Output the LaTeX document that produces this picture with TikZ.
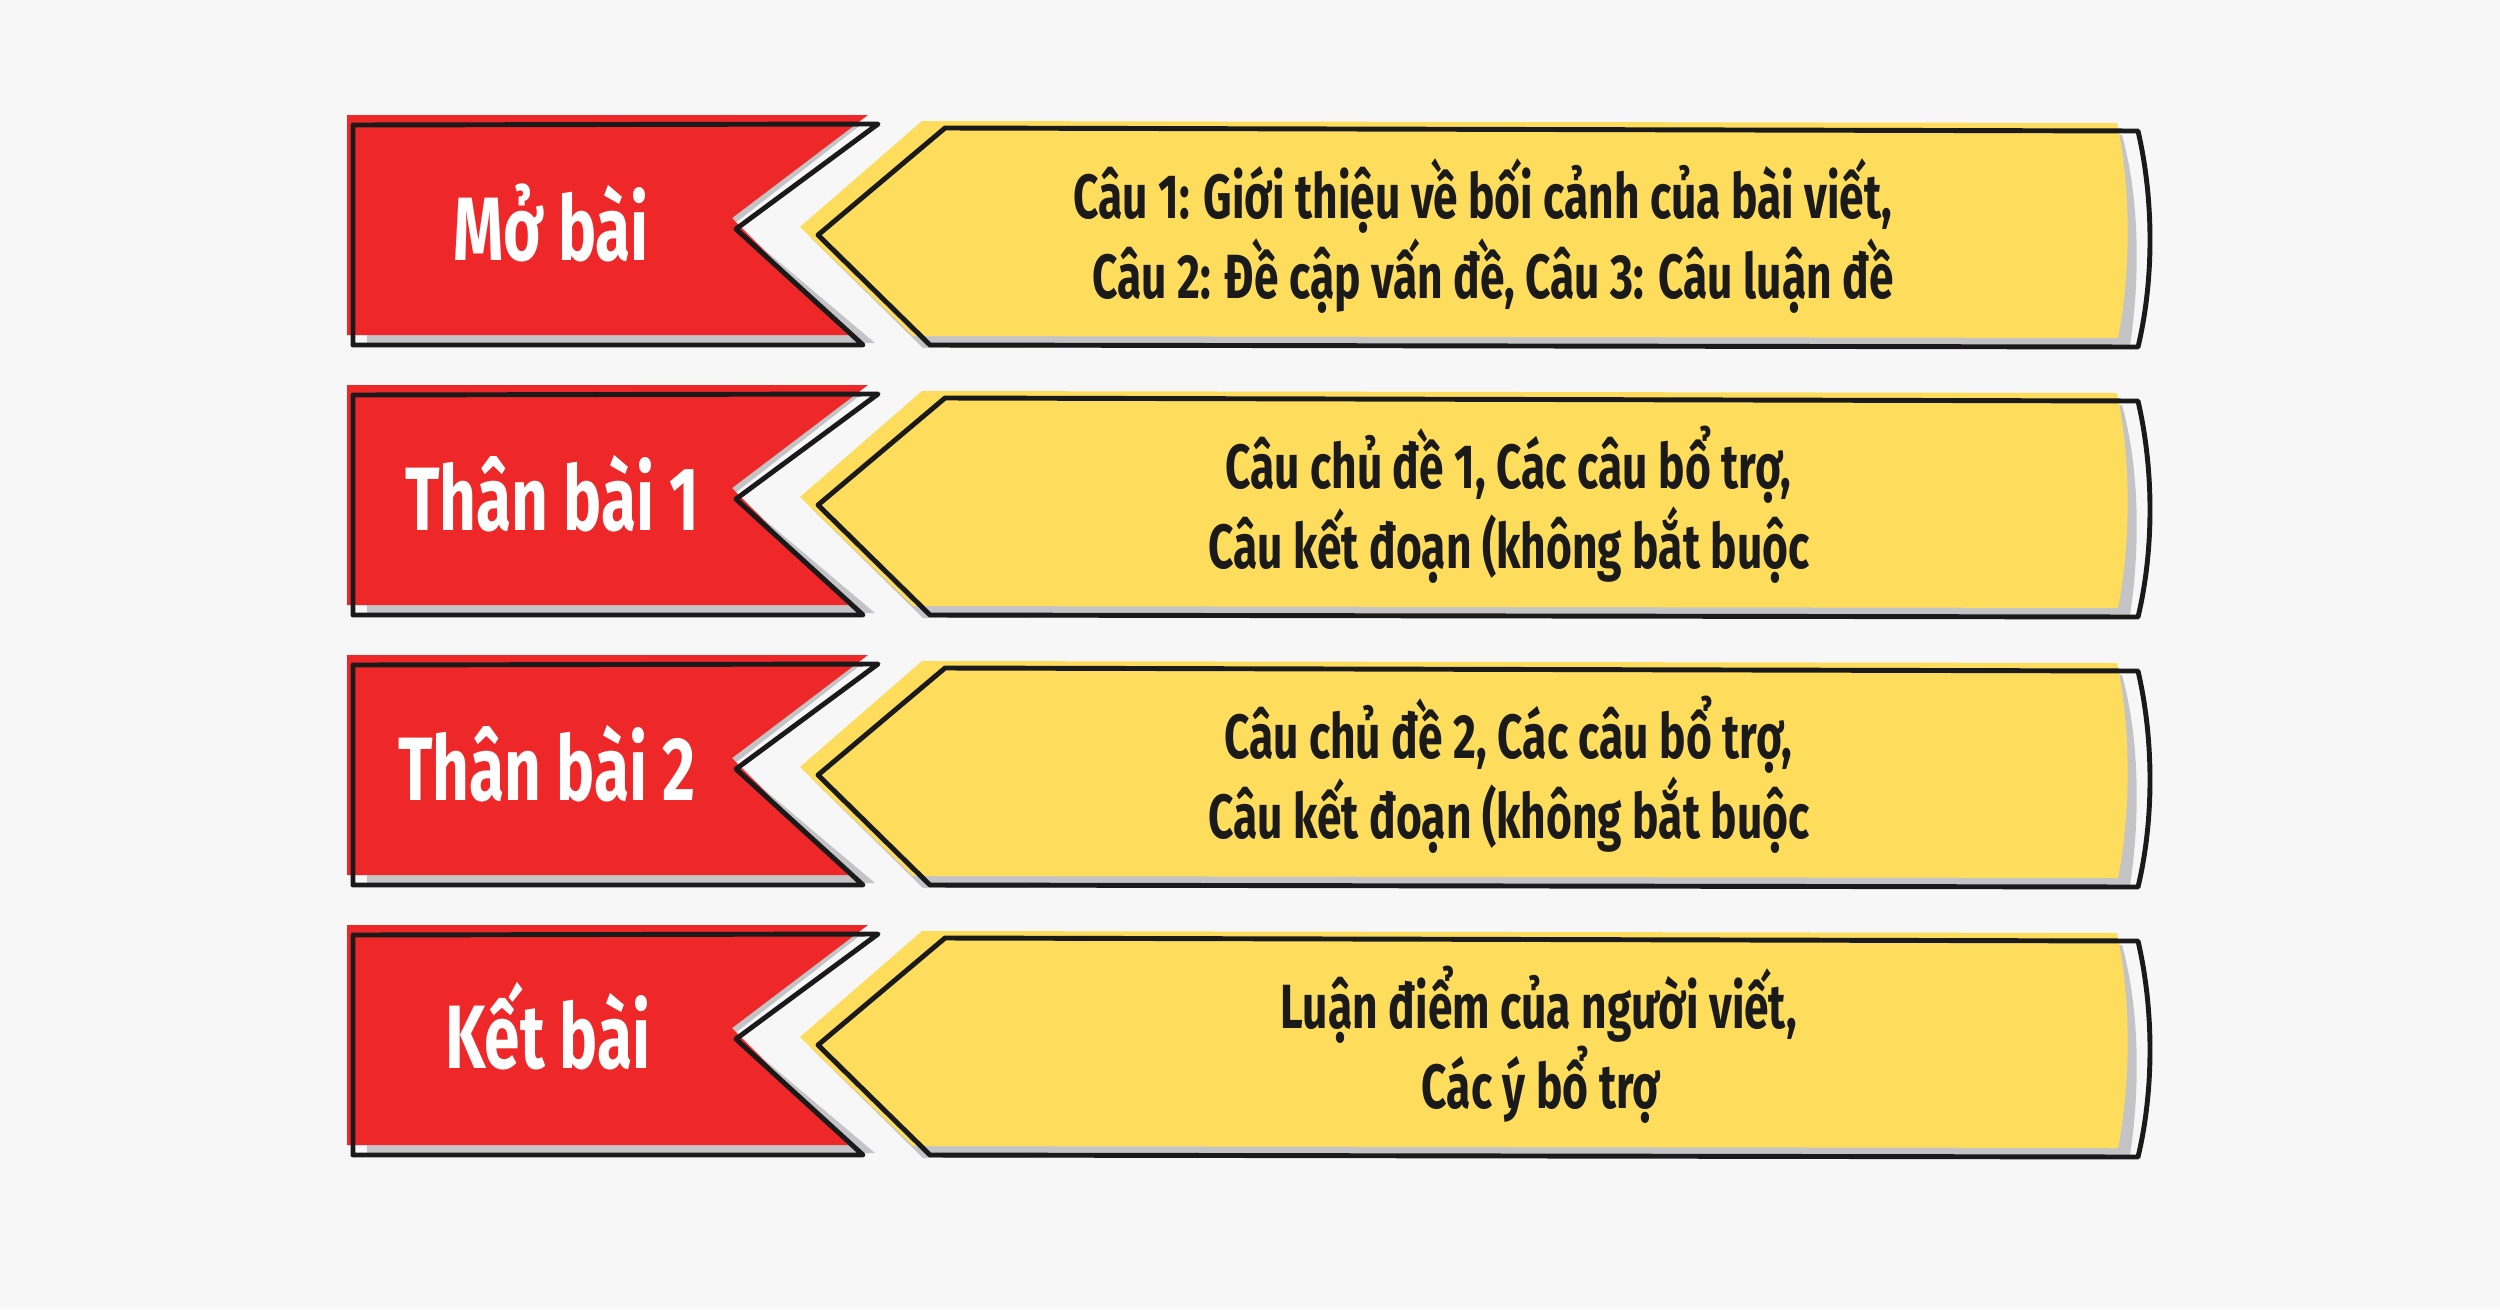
\documentclass[tikz,border=0pt]{standalone}
\usepackage{fontspec}
\newfontfamily\handfont[FakeStretch=0.71]{Fira Sans}
\definecolor{bgc}{RGB}{247,247,247}
\definecolor{redc}{RGB}{238,40,41}
\definecolor{yelc}{RGB}{254,221,92}
\definecolor{shadc}{RGB}{196,196,199}
\definecolor{inkc}{RGB}{26,26,26}
\tikzset{
  outline/.style={draw=inkc, line width=1.4pt, line join=round},
  shadow/.style={fill=shadc},
  titletext/.style={font=\handfont\bfseries\fontsize{25.6}{30}\selectfont, text=white, anchor=base, inner sep=0pt},
  bodytext/.style={font=\handfont\bfseries\fontsize{17.75}{22}\selectfont, text=inkc, anchor=base, inner sep=0pt}
}
\begin{document}
\begin{tikzpicture}[x=0.01cm,y=-0.01cm]
\fill[bgc] (0,0) rectangle (2500,1309);
\useasboundingbox (0,0) rectangle (2500,1309);
\foreach \i in {0,1,2,3}{
  \begin{scope}[shift={(0,270*\i)}]
    % red banner
    \fill[shadow] (367,127) -- (858,127) -- (734,224) -- (875,343) -- (367,343) -- cycle;
    \fill[redc] (347,115) -- (868,115) -- (732,218) -- (848,335) -- (347,335) -- cycle;
    \draw[outline] (353,125) -- (878,124) -- (736,229) -- (863,345) -- (353,345) -- cycle;
    % yellow arrow box
    \fill[shadow] (811,238) -- (938,131) -- (2122,135) .. controls (2140,200) and (2140,280) .. (2130,345) -- (923,348) -- cycle;
    \fill[yelc] (800,227) -- (922,121) -- (2117,123) .. controls (2131,190) and (2131,270) .. (2118,338) -- (913,336) -- cycle;
    \draw[outline] (818,235) -- (945,128) -- (2138,131) .. controls (2154,200) and (2154,280) .. (2138,347) -- (930,345) -- cycle;
  \end{scope}
}
\node[titletext] (h1) at (551,260) {Mở bài};
\node[titletext] (h2) at (552,530) {Thân bài 1};
\node[titletext] (h3) at (547,800) {Thân bài 2};
\node[titletext] (h4) at (548,1068) {Kết bài};

\node[bodytext] (t1a) at (1483,218) {Câu 1: Giới thiệu về bối cảnh của bài viết,};
\node[bodytext] (t1b) at (1493,298) {Câu 2: Đề cập vấn đề, Câu 3: Câu luận đề};
\node[bodytext] (t2a) at (1508,488) {Câu chủ đề 1, Các câu bổ trợ,};
\node[bodytext] (t2b) at (1509,568) {Câu kết đoạn (không bắt buộc};
\node[bodytext] (t3a) at (1508,758) {Câu chủ đề 2, Các câu bổ trợ,};
\node[bodytext] (t3b) at (1509,838) {Câu kết đoạn (không bắt buộc};
\node[bodytext] (t4a) at (1539,1028) {Luận điểm của người viết,};
\node[bodytext] (t4b) at (1541,1108) {Các ý bổ trợ};
\end{tikzpicture}
\end{document}
